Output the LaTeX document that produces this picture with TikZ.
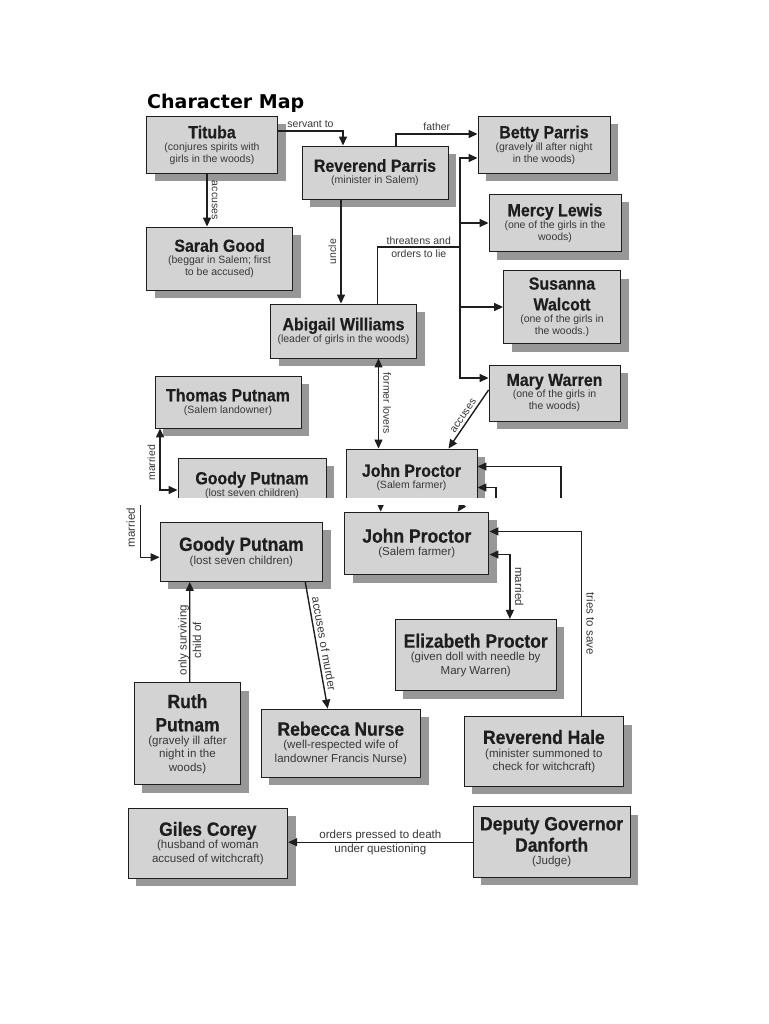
\documentclass[tikz,border=0pt]{standalone}
\usepackage{fontspec}
\setmainfont{Liberation Sans}
\newfontfamily\headfont{DejaVu Sans}
\newfontfamily\namefont[FakeStretch=0.91,FakeBold=0.5]{Liberation Sans}
\newfontfamily\notefont{Liberation Sans}
\usepackage{xcolor}
\usetikzlibrary{arrows.meta,calc,shadows}
\tikzset{>={Triangle[length=9pt,width=8pt]}}
\definecolor{boxgray}{HTML}{D3D3D3}
\definecolor{shadegray}{HTML}{979797}
\definecolor{inkgray}{HTML}{1E1E1E}
\definecolor{notegray}{HTML}{383838}
\tikzstyle{person}=[draw=inkgray,line width=0.9pt,fill=boxgray,align=center,inner sep=2pt,
  drop shadow={shadow xshift=8pt,shadow yshift=-8pt,fill=shadegray,opacity=1}]
\tikzstyle{link}=[draw=inkgray,line width=1.4pt]
\tikzstyle{note}=[text=notegray,font=\notefont\fontsize{10.5}{13}\selectfont,inner sep=2.5pt]
\tikzstyle{side}=[note,inner sep=4pt,anchor=south]
\newcommand\nm{\namefont\bfseries\fontsize{17.5}{20}\selectfont\color{inkgray}}
\newcommand\dsc{\notefont\fontsize{10.5}{12.5}\selectfont\color{notegray}}

% the whole chart, in the frame of the upper scan
\newcommand\charmap{%
  % PARRIS HOUSEHOLD
  \node[person,minimum width=131pt,minimum height=57pt] (tituba) at (212,145)
    {{\nm Tituba}\\{\dsc (conjures spirits with}\\{\dsc girls in the woods)}};
  \node[person,minimum width=146pt,minimum height=53pt] (parris) at (375,172.5)
    {{\nm Reverend Parris}\\{\dsc (minister in Salem)}};
  \node[person,minimum width=146pt,minimum height=63pt] (sarah) at (219.5,258.5)
    {{\nm Sarah Good}\\{\dsc (beggar in Salem; first}\\{\dsc to be accused)}};
  \node[person,minimum width=146pt,minimum height=54pt] (abigail) at (343.5,331)
    {{\nm Abigail Williams}\\{\dsc (leader of girls in the woods)}};
  % THE GIRLS
  \node[person,minimum width=132pt,minimum height=57pt] (betty) at (544,145)
    {{\nm Betty Parris}\\{\dsc (gravely ill after night}\\{\dsc in the woods)}};
  \node[person,minimum width=132pt,minimum height=57pt] (mercy) at (555,223)
    {{\nm Mercy Lewis}\\{\dsc (one of the girls in the}\\{\dsc woods)}};
  \node[person,minimum width=117pt,minimum height=73pt] (susanna) at (562,307)
    {{\nm Susanna}\\[7pt]{\nm Walcott}\\{\dsc (one of the girls in}\\{\dsc the woods.)}};
  \node[person,minimum width=131pt,minimum height=56pt] (mary) at (554.5,393)
    {{\nm Mary Warren}\\{\dsc (one of the girls in}\\{\dsc the woods)}};
  % PUTNAMS
  \node[person,minimum width=146pt,minimum height=52pt] (thomas) at (228,402)
    {{\nm Thomas Putnam}\\{\dsc (Salem landowner)}};
  \node[person,minimum width=148pt,minimum height=54pt] (gp) at (252,485)
    {{\nm Goody Putnam}\\{\dsc (lost seven children)}};
  \node[person,minimum width=97pt,minimum height=93pt] (ruth) at (203,650.5)
    {{\nm Ruth}\\[8pt]{\nm Putnam}\\{\dsc (gravely ill after}\\{\dsc night in the}\\{\dsc woods)}};
  \node[person,minimum width=145pt,minimum height=62pt] (rebecca) at (342.4,659)
    {{\nm Rebecca Nurse}\\{\dsc (well-respected wife of}\\{\dsc landowner Francis Nurse)}};
  % PROCTORS
  \node[person,minimum width=131pt,minimum height=57pt] (jp) at (411.5,477.5)
    {{\nm John Proctor}\\{\dsc (Salem farmer)}};
  \node[person,minimum width=146pt,minimum height=65pt] (elizabeth) at (465,579)
    {{\nm Elizabeth Proctor}\\{\dsc (given doll with needle by}\\{\dsc Mary Warren)}};
  \node[person,minimum width=145pt,minimum height=63pt] (hale) at (527,666.5)
    {{\nm Reverend Hale}\\{\dsc (minister summoned to}\\{\dsc check for witchcraft)}};
  % COURT
  \node[person,minimum width=145pt,minimum height=64pt] (giles) at (221.5,750)
    {{\nm Giles Corey}\\{\dsc (husband of woman}\\{\dsc accused of witchcraft)}};
  \node[person,minimum width=143pt,minimum height=64pt] (danforth) at (534,749)
    {{\nm Deputy Governor}\\[2pt]{\nm Danforth}\\{\dsc (Judge)}};
  %
  % LINKS
  \draw[link,->] ($(tituba.east)+(0,-14)$) -| ($(parris.north)+(-32,0)$)
    node[note,pos=0.25,above] {servant to};
  \draw[link,->] ($(parris.north)+(21,0)$) |- ($(betty.west)+(0,-11)$)
    node[note,pos=0.75,above] {father};
  \draw[link,->] ($(tituba.south)+(-5,0)$) coordinate (tt) -- (tt |- sarah.north)
    node[side,midway,rotate=-90] {accuses};
  \draw[link,->] ($(parris.south)+(-34,0)$) coordinate (uu) -- (uu |- abigail.north)
    node[side,midway,rotate=90] {uncle};
  \coordinate (fork) at (460,247);
  \draw[link] ($(abigail.north)+(34,0)$) |- (fork)
    node[note,pos=0.75,align=center] {threatens and\\orders to lie};
  \draw[link,->] (fork) |- ($(betty.west)+(0,13)$);
  \draw[link,->] (fork) |- (mercy.west);
  \draw[link,->] (fork) |- (susanna.west);
  \draw[link,->] (fork) |- ($(mary.west)+(0,-15)$);
  \draw[link,<->] ($(abigail.south)+(35,0)$) coordinate (fl) -- (fl |- jp.north)
    node[side,midway,rotate=-90] {former lovers};
  \draw[link,->] ($(mary.west)+(0,-3)$) -- ($(jp.north)+(37,0)$)
    node[note,midway,sloped,above] {accuses};
  \draw[link,<->] ($(thomas.south)+(-68,0)$) |- ($(gp.west)+(0,5)$)
    node[side,pos=0.28,rotate=90] {married};
  \draw[link,->] ($(hale.north)+(34,0)$) |- ($(jp.east)+(0,-11)$)
    node[side,pos=0.25,rotate=-90] {tries to save};
  \draw[link,<->] ($(jp.east)+(0,10)$) -| ($(elizabeth.north)+(31,0)$)
    node[side,pos=0.75,rotate=-90] {married};
  \draw[link,->] ($(ruth.north)+(2,0)$) coordinate (rp) -- (rp |- gp.south)
    node[note,pos=0.42,rotate=90,align=center] {only surviving\\child of};
  \draw[link,->] ($(gp.south)+(58,0)$) -- ($(rebecca.north)+(-12,0)$)
    node[note,midway,sloped,above] {accuses of murder};
  \draw[link,->] (danforth.west) -- (danforth.west -| giles.east)
    node[note,midway,align=center] {orders pressed to death\\under questioning};
}

\begin{document}
\begin{tikzpicture}[x=1pt,y=-1pt]
  \useasboundingbox[fill=white] (0,0) rectangle (768,1024);

  \node[anchor=base west,inner sep=0pt,font=\headfont\bfseries\fontsize{19}{23}\selectfont]
    (heading) at (147,109) {Character Map};

  % UPPER SCAN
  \begin{scope}
    \clip (0,0) rectangle (768,497.5);
    \charmap
  \end{scope}

  % LOWER SCAN
  \begin{scope}
    \clip (0,505) rectangle (768,1024);
    \begin{scope}[shift={(-35.8,18.2)},scale=1.1,transform shape]
      \charmap
    \end{scope}
  \end{scope}
\end{tikzpicture}
\end{document}
